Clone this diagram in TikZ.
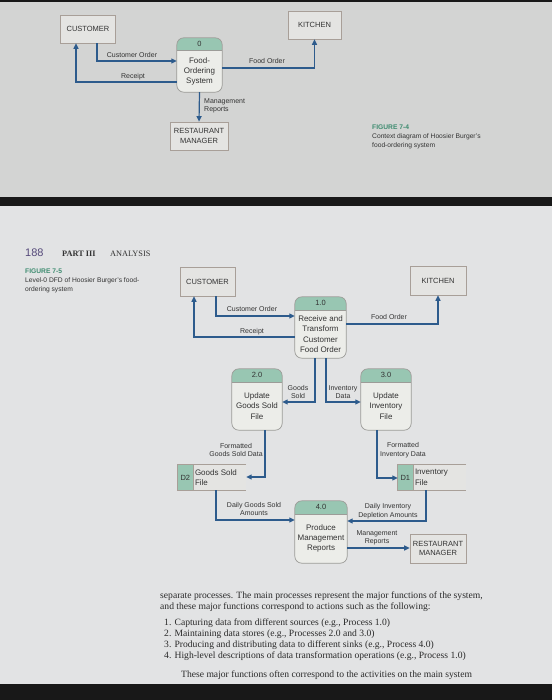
\documentclass[tikz,border=0pt]{standalone}
\usepackage{fontspec}
\setmainfont{Liberation Serif}
\setsansfont{Liberation Sans}
\usetikzlibrary{arrows.meta,calc}
\definecolor{bgtop}{HTML}{D3D4D3}
\definecolor{bgbot}{HTML}{E2E3E4}
\definecolor{band}{HTML}{181818}
\definecolor{entB}{HTML}{A89F98}
\definecolor{entF}{HTML}{E4E4E2}
\definecolor{procF}{HTML}{ECEDE9}
\definecolor{procB}{HTML}{9C9C98}
\definecolor{hdr}{HTML}{98C6B2}
\definecolor{flowC}{HTML}{2D5B8C}
\definecolor{txt}{HTML}{333333}
\definecolor{bodyC}{HTML}{2A2A2A}
\definecolor{capG}{HTML}{3E8C70}
\definecolor{pgnum}{HTML}{55497A}
\newcommand\procbox[7]{%
  \node[procn, minimum width=#4pt, minimum height=#5pt] (#1) at (#2,#3) {};
  \begin{scope}
    \clip[rounded corners=7pt] (#1.north west) rectangle (#1.south east);
    \fill[hdr] (#1.north west) rectangle ([yshift=-13pt]#1.north east);
  \end{scope}
  \draw[procB, line width=0.7pt, rounded corners=7pt] (#1.north west) rectangle (#1.south east);
  \draw[procB, line width=0.6pt] ([yshift=-13pt]#1.north west) -- ([yshift=-13pt]#1.north east);
  \node[numtext] (#1n) at ([yshift=-6.5pt]#1.north) {#6};
  \node[proctext] (#1t) at ([yshift=-6.5pt]#1.center) {#7};
}
\newcommand\storebox[5]{% name, left x, center y, id, text
  \node[storen] (#1) at (#2+34,#3) {};
  \fill[entF] (#1.north west) rectangle (#1.south east);
  \fill[hdr] (#1.north west) rectangle ([xshift=15pt]#1.south west);
  \draw[entB, line width=0.7pt] (#1.north east) -- (#1.north west) -- (#1.south west) -- (#1.south east);
  \draw[entB, line width=0.5pt] ([xshift=15pt]#1.north west) -- ([xshift=15pt]#1.south west);
  \node[idtext] (#1i) at ([xshift=7.5pt]#1.west) {#4};
  \node[storetext, anchor=west] (#1t) at ([xshift=17pt]#1.west) {#5};
}
\begin{document}
\begin{tikzpicture}[x=1pt,y=-1pt,
  entity/.style={draw=entB, fill=entF, line width=0.7pt, font=\sffamily\fontsize{7.5}{9.5}\selectfont, text=txt, align=center, inner sep=0pt},
  procn/.style={inner sep=0pt, fill=procF, rounded corners=7pt},
  numtext/.style={font=\sffamily\fontsize{7.5}{8}\selectfont, text=txt, inner sep=0pt},
  proctext/.style={font=\sffamily\fontsize{8}{10.3}\selectfont, text=txt, align=center, inner sep=0pt},
  storen/.style={minimum width=68pt, minimum height=25pt, inner sep=0pt},
  idtext/.style={font=\sffamily\fontsize{7.5}{8}\selectfont, text=txt, inner sep=0pt},
  storetext/.style={font=\sffamily\fontsize{8}{10.5}\selectfont, text=txt, align=left, inner sep=0pt},
  lbl/.style={font=\sffamily\fontsize{7}{8.5}\selectfont, text=txt, align=center, inner sep=0pt},
  flow/.style={draw=flowC, line width=1.2pt, -{Triangle[length=5.5pt,width=5pt]}},
  captxt/.style={font=\sffamily\fontsize{6.7}{9.5}\selectfont, text=txt, inner sep=0pt, anchor=west},
  captitle/.style={font=\sffamily\bfseries\fontsize{6.7}{9.5}\selectfont, text=capG, inner sep=0pt, anchor=west},
  bodytxt/.style={font=\fontsize{9.6}{11}\selectfont, text=bodyC, inner sep=0pt, anchor=west}
]
\useasboundingbox (0,0) rectangle (552,700);
% backgrounds
\fill[bgtop] (0,0) rectangle (552,198);
\fill[bgbot] (0,198) rectangle (552,700);
\fill[band] (0,0) rectangle (552,2.5);
\fill[band] (0,197) rectangle (552,206);
\fill[band] (0,684) rectangle (552,700);

% ---------------- Figure 7-4 ----------------
\node[entity, minimum width=55pt, minimum height=28pt] (cust0) at (88,29) {CUSTOMER};
\node[entity, minimum width=53pt, minimum height=28pt] (kit0) at (314.5,25) {KITCHEN};
\node[entity, minimum width=58pt, minimum height=28pt] (rm0) at (199,136) {RESTAURANT\\MANAGER};
\procbox{p0}{199.5}{65}{45}{54}{0}{Food-\\Ordering\\System}

\draw[flow] (97,0 |- cust0.south) |- (p0.west |- 0,61);
\draw[flow] (p0.west |- 0,82) -| (76,0 |- cust0.south);
\draw[flow] (p0.east |- 0,68) -| (kit0.south);
\draw[flow] (p0.south) -- (rm0.north);

\node[lbl] (l01) at (132,55) {Customer Order};
\node[lbl] (l02) at (133,77) {Receipt};
\node[lbl] (l03) at (267,61) {Food Order};
\node[lbl, align=left, anchor=west] (l04) at (204,106) {Management\\Reports};

\node[captitle] (c41) at (372,127) {FIGURE 7-4};
\node[captxt] (c42) at (372,137) {Context diagram of Hoosier Burger's};
\node[captxt] (c43) at (372,146) {food-ordering system};

% ---------------- Page header ----------------
\node[font=\sffamily\fontsize{11}{12}\selectfont, text=pgnum, inner sep=0pt, anchor=west] (pg) at (25,253) {188};
\node[font=\bfseries\fontsize{8.3}{9}\selectfont, text=txt, inner sep=0pt, anchor=west] (pt) at (62,254) {PART III};
\node[font=\fontsize{8.3}{9}\selectfont, text=txt, inner sep=0pt, anchor=west] (an) at (110,254) {ANALYSIS};
\node[captitle] (c51) at (25,271) {FIGURE 7-5};
\node[captxt] (c52) at (25,280.5) {Level-0 DFD of Hoosier Burger's food-};
\node[captxt] (c53) at (25,290) {ordering system};

% ---------------- Figure 7-5 ----------------
\node[entity, minimum width=55pt, minimum height=29pt] (cust1) at (207.5,281.5) {CUSTOMER};
\node[entity, minimum width=56pt, minimum height=29pt] (kit1) at (438,280.5) {KITCHEN};
\node[entity, minimum width=56pt, minimum height=29pt] (rm1) at (438,548.5) {RESTAURANT\\MANAGER};
\procbox{p1}{320.5}{327.5}{51}{61}{1.0}{Receive and\\Transform\\Customer\\Food Order}
\procbox{p2}{257}{399.5}{50}{61}{2.0}{Update\\Goods Sold\\File}
\procbox{p3}{386}{399.5}{50}{61}{3.0}{Update\\Inventory\\File}
\procbox{p4}{321}{532}{52}{62}{4.0}{Produce\\Management\\Reports}
\storebox{d2}{178}{477.5}{D2}{Goods Sold\\File}
\storebox{d1}{398}{477.5}{D1}{Inventory\\File}

\draw[flow] (216,0 |- cust1.south) |- (p1.west |- 0,316);
\draw[flow] (p1.west |- 0,337) -| (194,0 |- cust1.south);
\draw[flow] (p1.east |- 0,324) -| (kit1.south);
\draw[flow] (315,0 |- p1.south) |- (p2.east |- 0,402);
\draw[flow] (326,0 |- p1.south) |- (p3.west |- 0,402);
\draw[flow] (265,0 |- p2.south) |- (d2.east |- 0,477);
\draw[flow] (377,0 |- p3.south) |- (d1.west |- 0,478);
\draw[flow] (216,0 |- d2.south) |- (p4.west |- 0,520);
\draw[flow] (426,0 |- d1.south) |- (p4.east |- 0,521);
\draw[flow] (p4.east |- 0,548) -- (rm1.west |- 0,548);

\node[lbl] (l11) at (252,309) {Customer Order};
\node[lbl] (l12) at (252,332) {Receipt};
\node[lbl] (l13) at (389,317) {Food Order};
\node[lbl] (l14) at (298,392) {Goods\\Sold};
\node[lbl] (l15) at (343,392) {Inventory\\Data};
\node[lbl] (l16) at (236,450) {Formatted\\Goods Sold Data};
\node[lbl] (l17) at (403,450) {Formatted\\Inventory Data};
\node[lbl] (l18) at (254,509) {Daily Goods Sold\\Amounts};
\node[lbl] (l19) at (388,511) {Daily Inventory\\Depletion Amounts};
\node[lbl] (l20) at (377,538) {Management\\Reports};

% ---------------- Body text ----------------
\node[bodytxt] (b1) at (160,596) {separate processes. The main processes represent the major functions of the system,};
\node[bodytxt] (b2) at (160,607) {and these major functions correspond to actions such as the following:};
\node[bodytxt] (b3) at (164,623) {1. Capturing data from different sources (e.g., Process 1.0)};
\node[bodytxt] (b4) at (164,634) {2. Maintaining data stores (e.g., Processes 2.0 and 3.0)};
\node[bodytxt] (b5) at (164,645) {3. Producing and distributing data to different sinks (e.g., Process 4.0)};
\node[bodytxt] (b6) at (164,656) {4. High-level descriptions of data transformation operations (e.g., Process 1.0)};
\node[bodytxt] (b7) at (181,675) {These major functions often correspond to the activities on the main system};
\end{tikzpicture}
\end{document}
